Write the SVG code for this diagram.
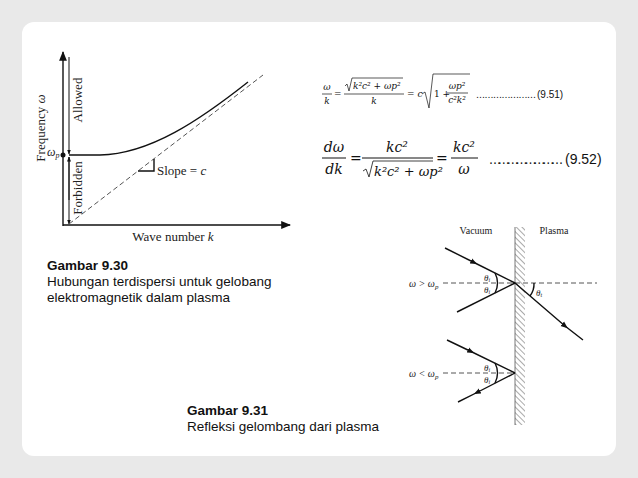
<svg xmlns="http://www.w3.org/2000/svg" width="638" height="478" viewBox="0 0 638 478">
<defs>
<style>
.s{font-family:"Liberation Serif",serif;fill:#222}
.c{font-family:"Liberation Sans",sans-serif;fill:#111;font-size:13.5px}
.m{font-family:"DejaVu Serif","Liberation Serif",serif;fill:#111}
.ln{stroke:#111;fill:none;stroke-width:1.4}
.dl{stroke:#555;fill:none;stroke-width:1;stroke-dasharray:5 3}
</style>
<marker id="ah" viewBox="0 0 10 10" refX="9" refY="5" markerWidth="7" markerHeight="7" orient="auto"><path d="M0,1L10,5L0,9z" fill="#111"/></marker>
<marker id="sa" viewBox="0 0 10 10" refX="9" refY="5" markerWidth="5" markerHeight="5" orient="auto" markerUnits="userSpaceOnUse"><path d="M0,1L10,5L0,9z" fill="#111"/></marker>
<marker id="mid" viewBox="0 0 10 10" refX="5" refY="5" markerWidth="5" markerHeight="5" orient="auto"><path d="M0,1L10,5L0,9z" fill="#111"/></marker>
<pattern id="hatch" width="4" height="4" patternUnits="userSpaceOnUse" patternTransform="rotate(-45)"><line x1="0" y1="0" x2="0" y2="4" stroke="#555" stroke-width="1"/></pattern>
</defs>
<rect width="638" height="478" fill="#e9e9e9"/>
<rect x="22" y="22" width="594" height="434" rx="12" fill="#fff"/>

<g id="graph">
<line class="ln" x1="63" y1="226" x2="63" y2="52" marker-end="url(#ah)"/>
<line class="ln" x1="63" y1="225" x2="290" y2="225" marker-end="url(#ah)"/>
<line stroke="#111" stroke-width="1" x1="69" y1="57" x2="69" y2="154" marker-end="url(#sa)"/>
<line stroke="#111" stroke-width="1" x1="69" y1="157" x2="69" y2="224" marker-end="url(#sa)"/>
<line stroke="#111" stroke-width="1" x1="69" y1="200" x2="69" y2="157" marker-end="url(#sa)"/>
<line class="dl" x1="69" y1="224" x2="263" y2="75"/>
<path class="ln" stroke-width="2" d="M69,155 L100,155 C150,154 200,120 248,82"/>
<circle cx="63" cy="155" r="2.5" fill="#111"/>
<path class="ln" stroke-width="1" d="M138,171 H154 V159"/>
<text class="s" x="157" y="175" font-size="13">Slope = <tspan font-style="italic">c</tspan></text>
<text class="s" x="173" y="241" font-size="13" text-anchor="middle">Wave number <tspan font-style="italic">k</tspan></text>
<text class="s" x="47" y="156" font-size="12" font-style="italic">ω<tspan font-size="8" dy="2">p</tspan></text>
<text class="s" font-size="13" transform="translate(45,128) rotate(-90)" text-anchor="middle">Frequency <tspan font-style="italic">ω</tspan></text>
<text class="s" font-size="13" transform="translate(82,100) rotate(-90)" text-anchor="middle">Allowed</text>
<text class="s" font-size="13" transform="translate(82,188) rotate(-90)" text-anchor="middle">Forbidden</text>
</g>

<g id="eq951" class="m" font-size="9">
<text x="327" y="90" text-anchor="middle" font-style="italic">ω</text>
<line x1="322" y1="94" x2="332" y2="94" stroke="#111" stroke-width="0.7"/>
<text x="327" y="104" text-anchor="middle" font-style="italic">k</text>
<text x="334" y="97">=</text>
<path d="M345,86 L347,84 L349,91 L352,78 H403" stroke="#111" fill="none" stroke-width="0.7"/>
<text x="353" y="89" font-style="italic">k²c² + ωp²</text>
<line x1="344" y1="94" x2="404" y2="94" stroke="#111" stroke-width="0.7"/>
<text x="374" y="104" text-anchor="middle" font-style="italic">k</text>
<text x="407" y="97">= <tspan font-style="italic">c</tspan></text>
<path d="M422,94 L425,92 L429,108 L433,74 H470" stroke="#111" fill="none" stroke-width="0.7"/>
<text x="434" y="97">1 +</text>
<text x="457" y="89" text-anchor="middle" font-style="italic">ωp²</text>
<line x1="447" y1="93" x2="468" y2="93" stroke="#111" stroke-width="0.7"/>
<text x="457" y="103" text-anchor="middle" font-style="italic">c²k²</text>
<text x="476" y="98" font-size="9" textLength="60">…………………</text>
<text x="537" y="98" font-family="Liberation Sans,sans-serif" font-size="10">(9.51)</text>
</g>

<g id="eq952" class="m" font-size="14">
<text x="334" y="152" text-anchor="middle" font-style="italic">dω</text>
<line x1="322" y1="158" x2="346" y2="158" stroke="#111" stroke-width="1"/>
<text x="334" y="174" text-anchor="middle" font-style="italic">dk</text>
<text x="350" y="163">=</text>
<text x="397" y="152" text-anchor="middle" font-style="italic">kc²</text>
<line x1="362" y1="158" x2="433" y2="158" stroke="#111" stroke-width="1"/>
<path d="M363,171 L366,169 L369,177 L373,161 H433" stroke="#111" fill="none" stroke-width="0.8"/>
<text x="374" y="176" font-style="italic" font-size="13">k²c² + ωp²</text>
<text x="436" y="163">=</text>
<text x="464" y="152" text-anchor="middle" font-style="italic">kc²</text>
<line x1="451" y1="158" x2="478" y2="158" stroke="#111" stroke-width="1"/>
<text x="464" y="174" text-anchor="middle" font-style="italic">ω</text>
<text x="489" y="164" font-size="12" textLength="74">……………………</text>
<text x="565" y="164" font-family="Liberation Sans,sans-serif" font-size="14">(9.52)</text>
</g>

<g id="reflection">
<rect x="515" y="227" width="10" height="198" fill="url(#hatch)"/>
<line x1="515" y1="227" x2="515" y2="425" stroke="#555" stroke-width="0.8"/>
<text class="s" x="476" y="234" font-size="10" text-anchor="middle">Vacuum</text>
<text class="s" x="554" y="234" font-size="10" text-anchor="middle">Plasma</text>
<line class="dl" x1="443" y1="283" x2="597" y2="283"/>
<line class="dl" x1="443" y1="373" x2="515" y2="373"/>
<text class="s" x="409" y="287" font-size="10" font-style="italic">ω &gt; ω<tspan font-size="7" dy="2">p</tspan></text>
<text class="s" x="409" y="377" font-size="10" font-style="italic">ω &lt; ω<tspan font-size="7" dy="2">p</tspan></text>
<g class="ln" stroke-width="1.2">
<polyline points="445,248 474,262.5 515,283" marker-mid="url(#mid)"/>
<line x1="515" y1="283" x2="457" y2="312"/>
<polyline points="515,283 565,326 583,340" marker-mid="url(#mid)"/>
<polyline points="447,340 471,351.5 515,373" marker-mid="url(#mid)"/>
<polyline points="515,373 477,392.5 458,402" marker-mid="url(#mid)"/>
</g>
<path d="M495,273 A22,22 0 0 1 495,293" class="ln" stroke-width="0.8"/>
<path d="M495,363 A22,22 0 0 1 495,383" class="ln" stroke-width="0.8"/>
<path d="M534,283 A20,20 0 0 1 530,296" class="ln" stroke-width="0.8"/>
<g class="s" font-size="9" font-style="italic">
<text x="484" y="281">θ<tspan font-size="6" dy="1">i</tspan></text>
<text x="484" y="293">θ<tspan font-size="6" dy="1">i</tspan></text>
<text x="484" y="371">θ<tspan font-size="6" dy="1">i</tspan></text>
<text x="484" y="383">θ<tspan font-size="6" dy="1">i</tspan></text>
<text x="536" y="296">θ<tspan font-size="6" dy="1">t</tspan></text>
</g>
</g>

<g id="captions" class="c">
<text x="47" y="270" font-weight="bold">Gambar 9.30</text>
<text x="47" y="286">Hubungan terdispersi untuk gelobang</text>
<text x="47" y="302">elektromagnetik dalam plasma</text>
<text x="187" y="415" font-weight="bold">Gambar 9.31</text>
<text x="187" y="431">Refleksi gelombang dari plasma</text>
</g>
</svg>
